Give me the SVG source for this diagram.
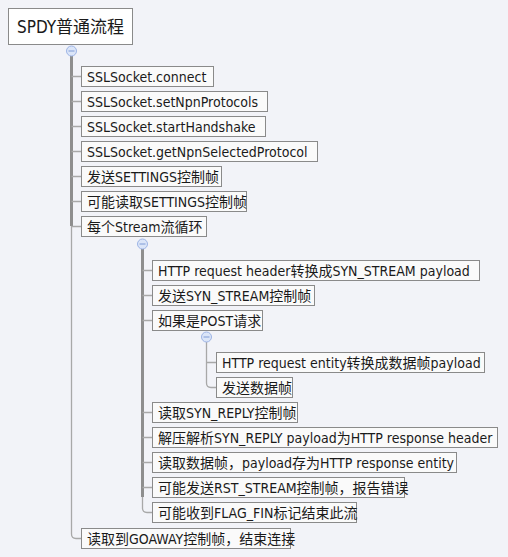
<svg xmlns="http://www.w3.org/2000/svg" width="508" height="557" viewBox="0 0 508 557">
<style>
.bg{fill:#f2f3f8}
.root{fill:#ffffff;stroke:#8a8a8a;stroke-width:1}
.box{fill:#fafafa;stroke:#8a8a8a;stroke-width:1}
.t{font-family:"DejaVu Sans Condensed","DejaVu Sans","Noto Sans CJK SC",sans-serif;font-stretch:condensed;font-size:14px;fill:#1a1a1a}
.rt{font-family:"DejaVu Sans Condensed","DejaVu Sans","Noto Sans CJK SC",sans-serif;font-stretch:condensed;font-size:17px;fill:#1a1a1a}
.trunk{fill:none;stroke:#8e8e8e;stroke-width:3}
.thin{fill:none;stroke:#a8a8a8;stroke-width:1.3}
.tog{fill:#dbe5f8;stroke:#9db4e6;stroke-width:1}
.minus{stroke:#7f9bd6;stroke-width:1}
</style>
<rect class="bg" x="0" y="0" width="508" height="557"/>
<g id="connectors">
<path class="trunk" d="M71.5 56V226"/>
<path class="thin" d="M71.5 226V534Q71.5 538.5 76 538.5H81"/>
<path class="thin" d="M71.5 76.5H81M71.5 101.5H81M71.5 126.5H81M71.5 151.5H81M71.5 176.5H81M71.5 201.5H81M71.5 226.5H81"/>
<path class="trunk" d="M142.5 249V497"/>
<path class="thin" d="M142.5 497V508Q142.5 512.5 147 512.5H152"/>
<path class="thin" d="M142.5 270.5H152M142.5 295.5H152M142.5 320.5H152M142.5 412.5H152M142.5 437.5H152M142.5 462.5H152M142.5 487.5H152"/>
<path class="thin" d="M206.5 342V383Q206.5 387.5 211 387.5H216M206.5 362.5H216"/>
</g>
<g id="toggles">
<g id="tog-root"><circle class="tog" cx="71.5" cy="51" r="5"/><path class="minus" d="M68.5 51H74.5"/></g>
<g id="tog-stream"><circle class="tog" cx="142.5" cy="244" r="5"/><path class="minus" d="M139.5 244H145.5"/></g>
<g id="tog-post"><circle class="tog" cx="206.5" cy="337" r="5"/><path class="minus" d="M203.5 337H209.5"/></g>
</g>
<g id="root"><rect class="root" x="8.5" y="8.5" width="124" height="36"/><text class="rt" x="17" y="32.5">SPDY普通流程</text></g>
<g id="n1"><rect class="box" x="81.5" y="66.5" width="132" height="20"/><text class="t" x="87" y="81.5">SSLSocket.connect</text></g>
<g id="n2"><rect class="box" x="81.5" y="91.5" width="186" height="20"/><text class="t" x="87" y="106.5">SSLSocket.setNpnProtocols</text></g>
<g id="n3"><rect class="box" x="81.5" y="116.5" width="184" height="20"/><text class="t" x="87" y="131.5">SSLSocket.startHandshake</text></g>
<g id="n4"><rect class="box" x="81.5" y="141.5" width="236" height="20"/><text class="t" x="87" y="156.5">SSLSocket.getNpnSelectedProtocol</text></g>
<g id="n5"><rect class="box" x="81.5" y="166.5" width="140" height="20"/><text class="t" x="87" y="181.5">发送SETTINGS控制帧</text></g>
<g id="n6"><rect class="box" x="81.5" y="191.5" width="165" height="20"/><text class="t" x="87" y="206.5">可能读取SETTINGS控制帧</text></g>
<g id="n7"><rect class="box" x="81.5" y="216.5" width="125" height="20"/><text class="t" x="87" y="231.5">每个Stream流循环</text></g>
<g id="s1"><rect class="box" x="152.5" y="260.5" width="327" height="20"/><text class="t" x="158" y="275.5">HTTP request header转换成SYN_STREAM payload</text></g>
<g id="s2"><rect class="box" x="152.5" y="285.5" width="162" height="20"/><text class="t" x="158" y="300.5">发送SYN_STREAM控制帧</text></g>
<g id="s3"><rect class="box" x="152.5" y="310.5" width="110" height="20"/><text class="t" x="158" y="325.5">如果是POST请求</text></g>
<g id="p1"><rect class="box" x="216.5" y="352.5" width="268" height="20"/><text class="t" x="222" y="367.5">HTTP request entity转换成数据帧payload</text></g>
<g id="p2"><rect class="box" x="216.5" y="377.5" width="76" height="20"/><text class="t" x="222" y="392.5">发送数据帧</text></g>
<g id="s4"><rect class="box" x="152.5" y="402.5" width="145" height="20"/><text class="t" x="158" y="417.5">读取SYN_REPLY控制帧</text></g>
<g id="s5"><rect class="box" x="152.5" y="427.5" width="345" height="20"/><text class="t" x="158" y="442.5">解压解析SYN_REPLY payload为HTTP response header</text></g>
<g id="s6"><rect class="box" x="152.5" y="452.5" width="304" height="20"/><text class="t" x="158" y="467.5">读取数据帧，payload存为HTTP response entity</text></g>
<g id="s7"><rect class="box" x="152.5" y="477.5" width="252" height="20"/><text class="t" x="158" y="492.5">可能发送RST_STREAM控制帧，报告错误</text></g>
<g id="s8"><rect class="box" x="152.5" y="502.5" width="204" height="20"/><text class="t" x="158" y="517.5">可能收到FLAG_FIN标记结束此流</text></g>
<g id="n8"><rect class="box" x="81.5" y="528.5" width="209" height="20"/><text class="t" x="87" y="543.5">读取到GOAWAY控制帧，结束连接</text></g>
</svg>
